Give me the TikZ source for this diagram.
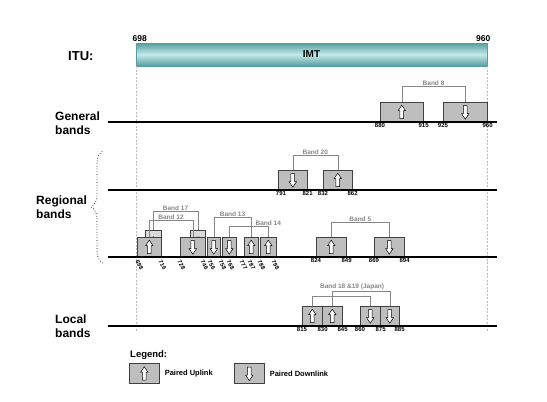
\documentclass[tikz,border=0pt]{standalone}
\usepackage{fontspec}
\setmainfont{Liberation Sans}
\usetikzlibrary{positioning}
\usetikzlibrary{decorations.pathreplacing}

\definecolor{imtdark}{RGB}{86,158,160}
\definecolor{imtlight}{RGB}{196,234,234}
\definecolor{boxgray}{RGB}{190,190,190}
\definecolor{capgray}{RGB}{218,218,218}
\definecolor{brgray}{RGB}{135,135,135}

\tikzset{
  bandbox/.style={draw=black!75, fill=boxgray, line width=0.6pt, inner sep=0pt,
    minimum height=19pt, anchor=south west},
  arrowline/.style={draw=black, fill=white, line width=0.5pt},
  upbox/.style={bandbox, path picture={
    \draw[arrowline] ([shift={(-1.9pt,-6.5pt)}]path picture bounding box.center)
      -- ++(3.8pt,0) -- ++(0,8pt) -- ++(1.8pt,0) -- ++(-3.7pt,5.5pt)
      -- ++(-3.7pt,-5.5pt) -- ++(1.8pt,0) -- cycle;}},
  downbox/.style={bandbox, path picture={
    \draw[arrowline] ([shift={(-1.9pt,6.5pt)}]path picture bounding box.center)
      -- ++(3.8pt,0) -- ++(0,-8pt) -- ++(1.8pt,0) -- ++(-3.7pt,-5.5pt)
      -- ++(-3.7pt,5.5pt) -- ++(1.8pt,0) -- cycle;}},
  capbox/.style={fill=capgray, minimum height=26pt},
  bracket/.style={draw=brgray, line width=0.6pt},
  bandlbl/.style={text=brgray, font=\fontsize{6.5}{7}\selectfont\bfseries, inner sep=1pt},
  freq/.style={font=\fontsize{6}{7}\selectfont\bfseries, inner sep=0.5pt},
  freqrot/.style={freq, font=\fontsize{5.8}{6}\selectfont\bfseries, rotate=-62, anchor=west, inner sep=0.3pt},
  axisline/.style={line width=1.6pt},
  guide/.style={draw=gray!55, line width=0.5pt, dash pattern=on 2pt off 1.5pt},
  sidetext/.style={font=\fontsize{12}{14}\selectfont\bfseries, align=left, anchor=west, inner sep=0pt},
  legitem/.style={font=\fontsize{7.5}{9}\selectfont\bfseries, inner sep=0pt},
  imtbar/.style={draw=imtdark, top color=imtdark, bottom color=imtdark, middle color=imtlight,
    minimum width=351pt, minimum height=23pt, inner sep=0pt, font=\fontsize{10}{12}\selectfont\bfseries}
}

\begin{document}
\begin{tikzpicture}[x=1pt, y=-1pt]
\useasboundingbox (0,0) rectangle (547,402);

% ITU row
\node[sidetext, font=\fontsize{13}{15}\selectfont\bfseries] (itu) at (68,56) {ITU:};
\node[imtbar] (imt) at (311.5,54.5) {IMT};
\node[freq, font=\fontsize{8.5}{10}\selectfont\bfseries, above=1pt of imt.north west, xshift=4pt] (i698) {698};
\node[freq, font=\fontsize{8.5}{10}\selectfont\bfseries, above=1pt of imt.north east, xshift=-4pt] (i960) {960};
\coordinate (guideend) at (0,332);
\draw[guide] (imt.south west) -- (imt.south west |- guideend);
\draw[guide] (imt.south east) -- (imt.south east |- guideend);

% general bands
\node[sidetext] (gentxt) at (55,123) {General\\bands};
\node[upbox, minimum width=43pt] (b8u) at (380,122) {};
\node[downbox, minimum width=44pt] (b8d) at (443,122) {};
\draw[bracket] (b8u.north) -- ++(0,-16) -| node[bandlbl, pos=0.25, above] (l8) {Band 8} (b8d.north);
\coordinate (gl) at (108,122);
\coordinate (gr) at (497,122);
\draw[axisline] (gl) -- (gr);
\node[freq, below=1pt of b8u.south west] (f880) {880};
\node[freq, below=1pt of b8u.south east] (f915) {915};
\node[freq, below=1pt of b8d.south west] (f925) {925};
\node[freq, below=1pt of b8d.south east] (f960) {960};

% regional bands
\node[sidetext] (regtxt) at (36,207) {Regional\\bands};
\coordinate (brtop) at (103,151);
\coordinate (brbot) at (103,263);
\draw[dotted, line width=0.7pt, decorate, decoration={brace, amplitude=12pt}] (brbot) -- (brtop);

\node[downbox, minimum width=29pt] (b20d) at (278,190) {};
\node[upbox, minimum width=29pt] (b20u) at (323,190) {};
\draw[bracket] (b20d.north) -- ++(0,-15) -| node[bandlbl, pos=0.25, above] (l20) {Band 20} (b20u.north);
\coordinate (r1l) at (108,190);
\coordinate (r1r) at (497,190);
\draw[axisline] (r1l) -- (r1r);
\node[freq, below=1pt of b20d.south west, xshift=3pt] (f791) {791};
\node[freq, below=1pt of b20d.south east] (f821) {821};
\node[freq, below=1pt of b20u.south west] (f832) {832};
\node[freq, below=1pt of b20u.south east] (f862) {862};

\node[upbox, capbox, minimum width=16pt] (b17u) at (145,257) {};
\node[downbox, capbox, minimum width=15pt] (b17d) at (190,257) {};
\node[upbox, minimum width=24pt] (b12u) at (137,257) {};
\node[downbox, minimum width=25pt] (b12d) at (180,257) {};
\node[downbox, minimum width=13pt] (b13d) at (207,257) {};
\node[downbox, minimum width=14pt] (b14d) at (222,257) {};
\node[upbox, minimum width=14pt] (b13u) at (244,257) {};
\node[upbox, minimum width=16pt] (b14u) at (260,257) {};
\node[upbox, minimum width=30pt] (b5u) at (316,257) {};
\node[downbox, minimum width=30pt] (b5d) at (374,257) {};
\draw[bracket] (b17u.north) -- ++(0,-19) -| node[bandlbl, pos=0.25, above] (l17) {Band 17} (b17d.north);
\draw[bracket] (b12u.north) -- ++(0,-17) -| node[bandlbl, pos=0.25, above] (l12) {Band 12} (b12d.north);
\draw[bracket] (b13d.north) -- ++(0,-20) -| node[bandlbl, pos=0.25, above] (l13) {Band 13} (b13u.north);
\draw[bracket] (b14d.north) -- ++(0,-11) -| node[bandlbl, pos=0.5, above] (l14) {Band 14} (b14u.north);
\draw[bracket] (b5u.north) -- ++(0,-15) -| node[bandlbl, pos=0.25, above] (l5) {Band 5} (b5d.north);
\coordinate (r2l) at (108,257);
\coordinate (r2r) at (497,257);
\draw[axisline] (r2l) -- (r2r);
\node[freqrot] (f698) at (137,260) {698};
\node[freqrot] (f716) at (160,260) {716};
\node[freqrot] (f728) at (179,260) {728};
\node[freqrot] (f746) at (202,260) {746};
\node[freqrot] (f756) at (209,260) {756};
\node[freqrot] (f758) at (220,260) {758};
\node[freqrot] (f768) at (228,260) {768};
\node[freqrot] (f777) at (241,260) {777};
\node[freqrot] (f787) at (249,260) {787};
\node[freqrot] (f788) at (259,260) {788};
\node[freqrot] (f798) at (273,260) {798};
\node[freq, below=1pt of b5u.south west] (f824) {824};
\node[freq, below=1pt of b5u.south east] (f849) {849};
\node[freq, below=1pt of b5d.south west] (f869) {869};
\node[freq, below=1pt of b5d.south east] (f894) {894};

% local bands
\node[sidetext] (loctxt) at (55,326) {Local\\bands};
\node[upbox, minimum width=20pt] (b18u) at (302,326) {};
\node[upbox, minimum width=20pt] (b19u) at (322,326) {};
\node[downbox, minimum width=20pt] (b18d) at (360,326) {};
\node[downbox, minimum width=19pt] (b19d) at (380,326) {};
\draw[bracket] (b18u.north) -- ++(0,-10) -| (b18d.north);
\draw[bracket] (b19u.north) -- ++(0,-15) -| node[bandlbl, pos=0.25, above, xshift=-9pt] (l1819) {Band 18 \&19 (Japan)} (b19d.north);
\coordinate (ll) at (108,326);
\coordinate (lr) at (497,326);
\draw[axisline] (ll) -- (lr);
\node[freq, below=1pt of b18u.south west] (f815) {815};
\node[freq, below=1pt of b18u.south east] (f830) {830};
\node[freq, below=1pt of b19u.south east] (f845) {845};
\node[freq, below=1pt of b18d.south west] (f860) {860};
\node[freq, below=1pt of b18d.south east] (f875) {875};
\node[freq, below=1pt of b19d.south east] (f885) {885};

% legend
\node[sidetext, font=\fontsize{9.5}{11}\selectfont\bfseries] (leg) at (130,355) {Legend:};
\node[upbox, minimum width=30pt, minimum height=20pt] (lgu) at (129,384) {};
\node[legitem, right=5pt of lgu] (lgut) {Paired Uplink};
\node[downbox, minimum width=30pt, minimum height=20pt] (lgd) at (234,384) {};
\node[legitem, right=5pt of lgd] (lgdt) {Paired Downlink};
\end{tikzpicture}
\end{document}
